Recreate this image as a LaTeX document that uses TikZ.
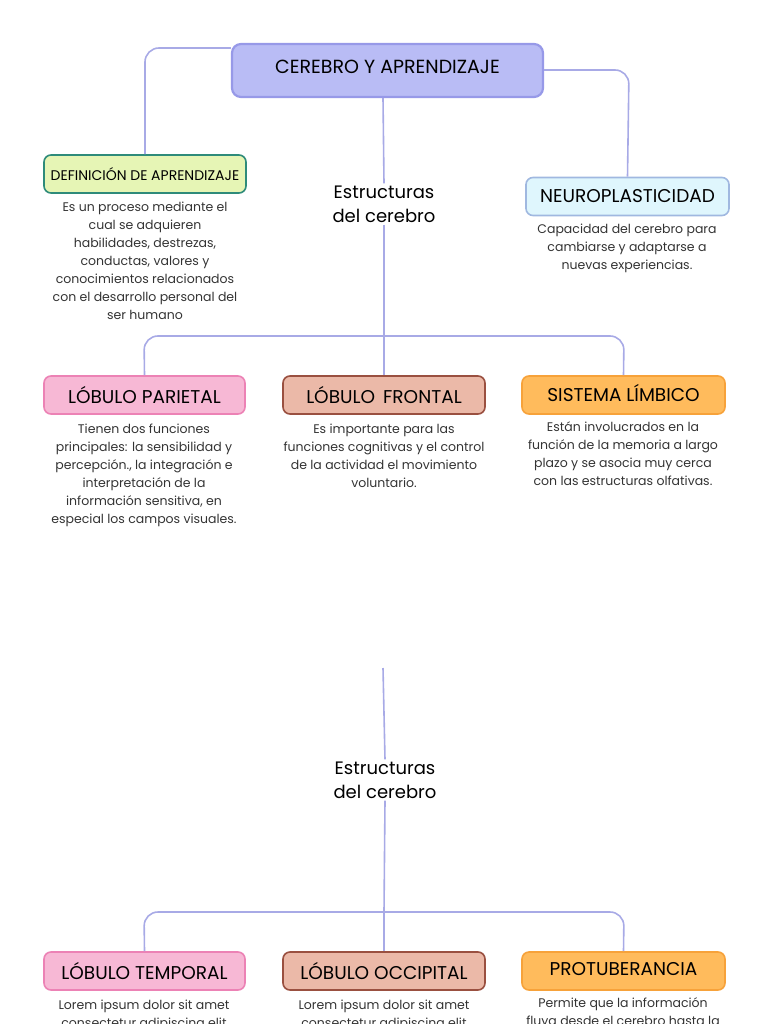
\documentclass[tikz,border=0pt]{standalone}
\usepackage{fontspec}
\setmainfont{Poppins}
\begin{document}
\begin{tikzpicture}[x=1pt,y=-1pt,
  conn/.style={draw=lineC,line width=1.6pt,rounded corners=14pt},
  boxS/.style={rounded corners=7pt,line width=1.6pt,minimum height=38pt,inner sep=0pt,font=\fontsize{18.5}{20}\selectfont},
  body/.style={align=center,font=\fontsize{12.5}{18}\selectfont,text=black!80,anchor=north},
  lab/.style={align=center,font=\fontsize{18}{24}\selectfont,fill=white,inner sep=2pt}]
\definecolor{lineC}{HTML}{A8AAE6}
\useasboundingbox (0,0) rectangle (768,1024);
\clip (0,0) rectangle (768,1024);
\node[boxS,draw=lineC!90!blue,fill={rgb,255:red,185;green,188;blue,245},minimum width=311pt,minimum height=53pt,line width=2.2pt,rounded corners=9pt,font=\fontsize{19}{20}\selectfont] (root) at (387.5,70.5) {\raisebox{8pt}{CEREBRO Y APRENDIZAJE}};
\node[boxS,draw={rgb,255:red,46;green,139;blue,122},fill={rgb,255:red,230;green,245;blue,181},minimum width=202pt,font=\fontsize{14}{14}\selectfont] (def) at (145,174) {DEFINICIÓN DE APRENDIZAJE};
\node[boxS,draw={rgb,255:red,160;green,184;blue,224},fill={rgb,255:red,223;green,246;blue,253},minimum width=203pt] (neu) at (627.5,196.5) {NEUROPLASTICIDAD};
\draw[conn] (root.west|-0,48) -- (145,48) -- (def.north);
\draw[conn] (root.east|-0,70) -- (629,70) -- (neu.north);
\node[body] (tdef) at (145,198) {Es un proceso mediante el\\cual se adquieren\\habilidades, destrezas,\\conductas, valores y\\conocimientos relacionados\\con el desarrollo personal del\\ser humano};
\node[body] (tneu) at (627,220) {Capacidad del cerebro para\\cambiarse y adaptarse a\\nuevas experiencias.};
% group 1
\node[lab] (e1) at (384,204) {Estructuras\\del cerebro};
\node[boxS,draw={rgb,255:red,236;green,130;blue,181},fill={rgb,255:red,247;green,184;blue,213},minimum width=201pt] (p1) at (144.5,395) {LÓBULO PARIETAL};
\node[boxS,draw={rgb,255:red,154;green,80;blue,64},fill={rgb,255:red,235;green,185;blue,168},minimum width=202pt] (p2) at (384,395) {LÓBULO\, FRONTAL};
\node[boxS,draw={rgb,255:red,247;green,162;blue,58},fill={rgb,255:red,255;green,187;blue,92},minimum width=203pt] (p3) at (623.5,395) {\raisebox{4pt}{SISTEMA LÍMBICO}};
\draw[conn] (root.south-|383,0) -- (e1.north);
\draw[conn] (e1.south) -- (384,336);
\draw[conn] (p1.north) -- (144,336) -- (624,336) -- (p3.north);
\draw[conn] (384,336) -- (p2.north);
\node[body] at (144,420) {Tienen dos funciones\\principales: la sensibilidad y\\percepción., la integración e\\interpretación de la\\información sensitiva, en\\especial los campos visuales.};
\node[body] at (384,420) {Es importante para las\\funciones cognitivas y el control\\de la actividad el movimiento\\voluntario.};
\node[body] at (623,418) {Están involucrados en la\\función de la memoria a largo\\plazo y se asocia muy cerca\\con las estructuras olfativas.};
% group 2
\coordinate (top2) at (383,668);
\node[lab] (e2) at (385,780) {Estructuras\\del cerebro};
\node[boxS,draw={rgb,255:red,236;green,130;blue,181},fill={rgb,255:red,247;green,184;blue,213},minimum width=201pt] (q1) at (144.5,971) {LÓBULO TEMPORAL};
\node[boxS,draw={rgb,255:red,154;green,80;blue,64},fill={rgb,255:red,235;green,185;blue,168},minimum width=202pt] (q2) at (384,971) {LÓBULO OCCIPITAL};
\node[boxS,draw={rgb,255:red,247;green,162;blue,58},fill={rgb,255:red,255;green,187;blue,92},minimum width=203pt] (q3) at (623.5,971) {\raisebox{4pt}{PROTUBERANCIA}};
\draw[conn] (top2) -- (e2.north);
\draw[conn] (e2.south) -- (384,912);
\draw[conn] (q1.north) -- (144,912) -- (624,912) -- (q3.north);
\draw[conn] (384,912) -- (q2.north);
\node[body] at (144,996) {Lorem ipsum dolor sit amet\\consectetur adipiscing elit};
\node[body] at (384,996) {Lorem ipsum dolor sit amet\\consectetur adipiscing elit};
\node[body] at (623,994) {Permite que la información\\fluya desde el cerebro hasta la};
\end{tikzpicture}
\end{document}
